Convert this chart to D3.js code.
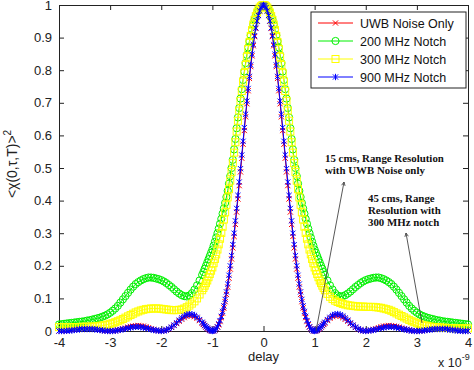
<!DOCTYPE html>
<html lang="en">
<head>
    <meta charset="UTF-8">
    <script src="https://d3js.org/d3.v7.min.js"></script>
    <title>Ambiguity function with notches</title>
    <style>
        body { margin: 0; background: #fff; }
        text { font-family: Arial, "Liberation Sans", sans-serif; }
    </style>
</head>
<body>
    <script>
        // sample positions (x 1e-9 s): finer steps across the main lobe
        var delay = [].concat(
            d3.range(-80, -24).map(function(i){ return i / 20; }),
            d3.range(-48, 48).map(function(i){ return i / 40; }),
            d3.range(24, 81).map(function(i){ return i / 20; })
        );

        // values, -4 .. -1.25 | -1.2 .. 1.175 | 1.2 .. 4
        var uwbNoise = [
            .000,.000,.001,.001,.002,.004,.005,.006,.007,.008, .008,.008,.008,.007,.006,.005,.003,.002,.001,.000,
            .000,.000,.001,.003,.005,.007,.009,.012,.014,.015, .016,.017,.016,.015,.013,.010,.007,.005,.002,.001,
            .000,.001,.003,.006,.011,.017,.023,.030,.036,.041, .045,.047,.047,.044,.039,.032,

            .024,.020,.016,.012,.008,.005,.002,.001, .000,.001,.003,.007,.012,.019,.029,.041,.055,.071,
            .090,.112,.135,.162,.190,.221,.255,.290,.327,.365, .405,.446,.488,.530,.573,.615,.657,.697,.737,.775,
            .811,.844,.875,.903,.928,.950,.968,.982,.992,.998, 1,
            .998,.992,.982,.968,.950,.928,.903,.875,.844,.811, .775,.737,.697,.657,.615,.573,.530,.488,.446,.405,
            .365,.327,.290,.255,.221,.190,.162,.135,.112,.090, .071,.055,.041,.029,.019,.012,.007,.003,.001,.000,
            .001,.002,.005,.008,.012,.016,.020,

            .024, .032,.039,.044,.047,.047,.045,.041,.036,.030,.023, .017,.011,.006,.003,.001,.000,.001,.002,.005,.007,
            .010,.013,.015,.016,.017,.016,.015,.014,.012,.009, .007,.005,.003,.001,.000,.000,.000,.001,.002,.003,
            .005,.006,.007,.008,.008,.008,.008,.007,.006,.005, .004,.002,.001,.001,.000,.000
        ];
        var notch200 = [
            .020,.021,.022,.023,.024,.025, .026,.027,.028,.029,.030,.032,.033,.035,.037,.039,
            .041,.044,.047,.051,.056,.062,.069,.077,.087,.097, .107,.117,.127,.136,.144,.150,.155,.159,.162,.164,
            .164,.163,.161,.159,.156,.152,.147,.141,.135,.128, .121,.115,.110,.107,.106,.109,.116,.127,.140,.155,

            .172,.181,.191,.200,.210,.220,.230,.240, .250,.262,.274,.287,.300,.314,.329,.344,.360,.376,
            .393,.411,.430,.452,.475,.500,.525,.557,.589,.622, .655,.684,.713,.742,.770,.796,.822,.847,.870,.889,
            .907,.924,.940,.955,.967,.977,.985,.992,.996,.999, 1,
            .999,.996,.992,.985,.977,.967,.955,.940,.924,.907, .889,.870,.847,.822,.796,.770,.742,.713,.684,.655,
            .622,.589,.557,.525,.500,.475,.452,.430,.411,.393, .376,.360,.344,.329,.314,.300,.287,.274,.262,.250,
            .240,.230,.220,.210,.200,.191,.181,

            .172, .155,.140,.127,.116,.109,.106,.107,.110,.115,.121, .128,.135,.141,.147,.152,.156,.159,.161,.163,.164,
            .164,.162,.159,.155,.150,.144,.136,.127,.117,.107, .097,.087,.077,.069,.062,.056,.051,.047,.044,.041,
            .039,.037,.035,.033,.032,.030,.029,.028,.027,.026, .025,.024,.023,.022,.021,.020
        ];
        var notch300 = [
            .012,.012,.012,.012,.012,.012, .012,.012,.012,.013,.013,.013,.013,.014,.014,.015,
            .016,.017,.018,.020,.022,.024,.027,.030,.033,.037, .041,.045,.049,.053,.057,.060,.063,.065,.067,.068,
            .069,.069,.069,.069,.068,.067,.066,.065,.064,.064, .064,.065,.066,.069,.073,.078,.084,.091,.100,.112,

            .125,.132,.139,.147,.155,.165,.175,.185, .195,.208,.221,.235,.250,.266,.283,.301,.320,.342,
            .364,.387,.410,.435,.461,.488,.515,.547,.579,.612, .645,.676,.706,.736,.765,.791,.816,.841,.865,.886,
            .905,.923,.940,.954,.966,.977,.985,.992,.996,.999, 1,
            .999,.996,.992,.985,.977,.966,.954,.940,.923,.905, .886,.865,.841,.816,.791,.765,.736,.706,.676,.645,
            .612,.579,.547,.515,.488,.461,.435,.410,.387,.364, .342,.320,.301,.283,.266,.250,.235,.221,.208,.195,
            .185,.175,.165,.155,.147,.139,.132,

            .125, .114,.105,.098,.093,.089,.086,.083,.081,.079,.078, .077,.076,.075,.075,.075,.074,.074,.074,.074,.073,
            .072,.071,.069,.067,.065,.062,.058,.054,.050,.046, .042,.038,.034,.030,.027,.024,.021,.019,.017,.016,
            .014,.013,.012,.012,.011,.010,.010,.009,.009,.009, .008,.008,.008,.008,.008,.008
        ];
        var notch900 = [
            .000,.000,.000,.001,.001,.002, .003,.004,.005,.006,.006,.006,.006,.006,.005,.004,
            .003,.002,.001,.000,.000,.000,.001,.002,.004,.005, .007,.009,.011,.012,.013,.013,.012,.011,.009,.007,
            .005,.003,.002,.001,.000,.001,.003,.007,.012,.018, .025,.033,.040,.046,.050,.052,.051,.048,.042,.035,

            .027,.022,.017,.013,.009,.006,.003,.001, .000,.001,.003,.007,.013,.022,.032,.045,.060,.077,
            .097,.120,.144,.171,.200,.231,.265,.300,.338,.376, .416,.457,.498,.540,.582,.624,.665,.705,.744,.781,
            .816,.849,.879,.906,.930,.951,.968,.982,.992,.998, 1,
            .998,.992,.982,.968,.951,.930,.906,.879,.849,.816, .781,.744,.705,.665,.624,.582,.540,.498,.457,.416,
            .376,.338,.300,.265,.231,.200,.171,.144,.120,.097, .077,.060,.045,.032,.022,.013,.007,.003,.001,.000,
            .001,.003,.006,.009,.013,.017,.022,

            .027, .035,.042,.048,.051,.052,.050,.046,.040,.033,.025, .018,.012,.007,.003,.001,.000,.001,.002,.003,.005,
            .007,.009,.011,.012,.013,.013,.012,.011,.009,.007, .005,.004,.002,.001,.000,.000,.000,.001,.002,.003,
            .004,.005,.006,.006,.006,.006,.006,.005,.004,.003, .002,.001,.001,.000,.000,.000
        ];

        var seriesNames = ['UWB Noise Only', '200 MHz Notch', '300 MHz Notch', '900 MHz Notch'];
        var xTicks = [-4, -3, -2, -1, 0, 1, 2, 3, 4];
        var yTicks = [0, 0.1, 0.2, 0.3, 0.4, 0.5, 0.6, 0.7, 0.8, 0.9, 1];

        var series = [
            {name: seriesNames[0], values: uwbNoise, color: '#ff0000', marker: 'x'},
            {name: seriesNames[1], values: notch200, color: '#00f000', marker: 'o'},
            {name: seriesNames[2], values: notch300, color: '#ffff00', marker: 's'},
            {name: seriesNames[3], values: notch900, color: '#0000ff', marker: '*'}
        ];

        var chartW = 474, chartH = 370;
        var plotL = 59, plotR = 468, plotT = 5, plotB = 331;

        var x = d3.scaleLinear().domain([-4, 4]).range([plotL, plotR]);
        var y = d3.scaleLinear().domain([0, 1]).range([plotB, plotT]);

        // matlab prints a plain hyphen for negatives
        var fmt = d3.formatLocale({decimal: '.', thousands: ',', grouping: [3], currency: ['', ''], minus: '-'});

        var svg = d3.select('body')
            .append('svg')
            .attr('width', chartW)
            .attr('height', chartH);

        // axes, ticks pointing inwards like matlab
        var axisColor = '#222';
        var xAxis = d3.axisBottom(x).tickValues(xTicks).tickSizeInner(-5).tickSizeOuter(0).tickPadding(7)
            .tickFormat(fmt.format('d'));
        var xTop = d3.axisTop(x).tickValues(xTicks).tickSizeInner(-5).tickSizeOuter(0).tickFormat('');
        var yAxis = d3.axisLeft(y).tickValues(yTicks).tickSizeInner(-5).tickSizeOuter(0).tickPadding(7)
            .tickFormat(fmt.format('~g'));
        var yRight = d3.axisRight(y).tickValues(yTicks).tickSizeInner(-5).tickSizeOuter(0).tickFormat('');

        svg.append('g').attr('transform', 'translate(0,' + plotB + ')').call(xAxis);
        svg.append('g').attr('transform', 'translate(0,' + plotT + ')').call(xTop);
        svg.append('g').attr('transform', 'translate(' + plotL + ',0)').call(yAxis);
        svg.append('g').attr('transform', 'translate(' + plotR + ',0)').call(yRight);

        svg.selectAll('.domain').attr('stroke', axisColor);
        svg.selectAll('.tick line').attr('stroke', axisColor);
        svg.selectAll('.tick text').attr('font-size', 13).attr('fill', '#222');

        // curves
        function drawMarker(g, type, color) {
            if (type === 'o') {
                g.append('circle').attr('r', 3.6).attr('fill', 'none').attr('stroke', color).attr('stroke-width', 1);
            } else if (type === 's') {
                g.append('rect').attr('x', -3.5).attr('y', -3.5).attr('width', 7).attr('height', 7)
                    .attr('fill', 'none').attr('stroke', color).attr('stroke-width', 1);
            } else if (type === 'x') {
                g.append('path').attr('d', 'M-2.6,-2.6L2.6,2.6M-2.6,2.6L2.6,-2.6')
                    .attr('stroke', color).attr('stroke-width', 1);
            } else {
                g.append('path').attr('d', 'M-2.6,-2.6L2.6,2.6M-2.6,2.6L2.6,-2.6M0,-3.2V3.2')
                    .attr('stroke', color).attr('stroke-width', 1);
            }
        }

        var line = d3.line()
            .x(function(d){ return x(d[0]); })
            .y(function(d){ return y(d[1]); });

        series.forEach(function(s) {
            var pts = s.values.map(function(v, i){ return [delay[i], v]; });
            var g = svg.append('g');
            g.append('path')
                .datum(pts)
                .attr('d', line)
                .attr('fill', 'none')
                .attr('stroke', s.color)
                .attr('stroke-width', 1);
            g.selectAll('g.mk')
                .data(pts)
                .enter()
                .append('g')
                .attr('class', 'mk')
                .attr('transform', function(d){ return 'translate(' + x(d[0]) + ',' + y(d[1]) + ')'; })
                .each(function(){ drawMarker(d3.select(this), s.marker, s.color); });
        });

        // axis labels
        svg.append('text')
            .attr('x', x(0)).attr('y', 361)
            .attr('text-anchor', 'middle')
            .attr('font-size', 13)
            .attr('fill', '#222')
            .text('delay');

        var expo = svg.append('text')
            .attr('x', 438).attr('y', 367)
            .attr('font-size', 12.5)
            .attr('fill', '#222');
        expo.append('tspan').text('x 10');
        expo.append('tspan').attr('dy', -7).attr('font-size', 9).text('-9');

        var ylab = svg.append('text')
            .attr('transform', 'translate(17,164) rotate(-90)')
            .attr('text-anchor', 'middle')
            .attr('font-size', 14)
            .attr('fill', '#222');
        ylab.append('tspan').text('<\u03c7(0,\u03c4,T)>');
        ylab.append('tspan').attr('dy', -6).attr('font-size', 10).text('2');

        // legend
        var legend = svg.append('g');
        legend.append('rect')
            .attr('x', 311).attr('y', 12).attr('width', 155).attr('height', 76)
            .attr('fill', '#fff').attr('stroke', axisColor).attr('stroke-width', 1);
        series.forEach(function(s, i) {
            var ly = 23 + i * 18;
            legend.append('line')
                .attr('x1', 318).attr('x2', 353).attr('y1', ly).attr('y2', ly)
                .attr('stroke', s.color).attr('stroke-width', 1);
            drawMarker(legend.append('g').attr('transform', 'translate(335.5,' + ly + ')'), s.marker, s.color);
            legend.append('text')
                .attr('x', 360).attr('y', ly + 4.5)
                .attr('font-size', 12.5)
                .attr('fill', '#111')
                .text(s.name);
        });

        // annotations
        var notes = [
            {lines: ['15 cms, Range Resolution', 'with UWB Noise only'], tx: 325, ty: 162,
             from: [344, 182], to: [316, 331]},
            {lines: ['45 cms, Range', 'Resolution with', '300 MHz notch'], tx: 368, ty: 202,
             from: [406, 233], to: [422, 323]}
        ];
        var noteFont = 11;
        notes.forEach(function(n, k) {
            var t = svg.append('text')
                .attr('x', n.tx).attr('y', n.ty)
                .style('font-family', '"Liberation Serif", "Times New Roman", serif')
                .style('font-weight', 'bold')
                .style('font-size', noteFont + 'px')
                .attr('fill', '#111');
            n.lines.forEach(function(l, i) {
                t.append('tspan').attr('x', n.tx).attr('dy', i === 0 ? 0 : 12).text(l);
            });
            // first label line is ~119px wide in the picture; size the font to it
            if (k === 0) {
                var w = t.select('tspan').node().getComputedTextLength();
                if (w > 0) noteFont = Math.min(11.5, noteFont * 119 / w);
                t.style('font-size', noteFont + 'px');
            }
            svg.append('line')
                .attr('x1', n.from[0]).attr('y1', n.from[1])
                .attr('x2', n.to[0]).attr('y2', n.to[1])
                .attr('stroke', '#444').attr('stroke-width', 0.9);
            // small head at the text end
            var ang = Math.atan2(n.from[1] - n.to[1], n.from[0] - n.to[0]);
            var hx = n.from[0], hy = n.from[1], len = 4;
            svg.append('path')
                .attr('d', 'M' + (hx - len * Math.cos(ang - 0.45)) + ',' + (hy - len * Math.sin(ang - 0.45)) +
                    'L' + hx + ',' + hy +
                    'L' + (hx - len * Math.cos(ang + 0.45)) + ',' + (hy - len * Math.sin(ang + 0.45)))
                .attr('fill', 'none').attr('stroke', '#444').attr('stroke-width', 0.9);
        });
    </script>
</body>
</html>
